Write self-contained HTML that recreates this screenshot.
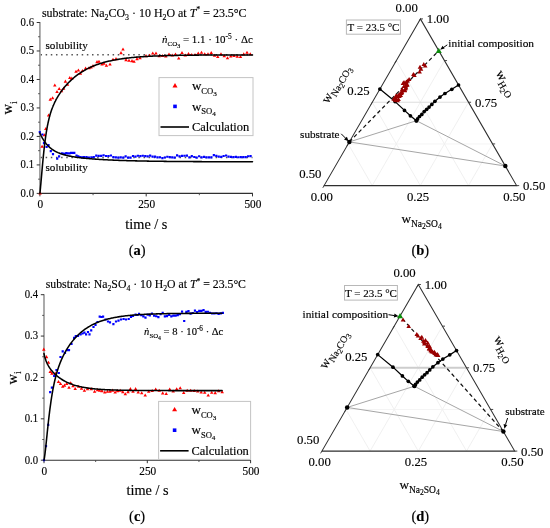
<!DOCTYPE html>
<html><head><meta charset="utf-8"><title>Figure</title>
<style>html,body{margin:0;padding:0;background:#fff;} svg{display:block;} text{stroke:#000;stroke-width:0.15px;paint-order:stroke;}</style></head>
<body><svg width="550" height="528" viewBox="0 0 550 528" font-family="'Liberation Serif','Times New Roman',serif">
<rect width="550" height="528" fill="#fff"/>
<line x1="40.5" y1="54.83" x2="252.5" y2="54.83" stroke="#555" stroke-width="1.5" stroke-dasharray="1.5 3.65"/>
<text x="45.5" y="49.3" font-size="11.2" text-anchor="start" >solubility</text>
<line x1="40.5" y1="157.4" x2="252.5" y2="157.4" stroke="#555" stroke-width="1.5" stroke-dasharray="1.5 3.65"/>
<text x="45.5" y="171.1" font-size="11.2" text-anchor="start" >solubility</text>
<line x1="39.9" y1="22.1" x2="39.9" y2="193.9" stroke="#9c9c9c" stroke-width="1.7" />
<line x1="39.4" y1="193.4" x2="252.9" y2="193.4" stroke="#303030" stroke-width="1.15" />
<line x1="36.7" y1="193.4" x2="39.9" y2="193.4" stroke="#333" stroke-width="1" />
<text transform="translate(34,196.7) scale(0.9,1)" font-size="11.9" text-anchor="end" >0.0</text>
<line x1="38.1" y1="179.16" x2="39.9" y2="179.16" stroke="#444" stroke-width="0.9" />
<line x1="36.7" y1="164.92" x2="39.9" y2="164.92" stroke="#333" stroke-width="1" />
<text transform="translate(34,168.22) scale(0.9,1)" font-size="11.9" text-anchor="end" >0.1</text>
<line x1="38.1" y1="150.68" x2="39.9" y2="150.68" stroke="#444" stroke-width="0.9" />
<line x1="36.7" y1="136.43" x2="39.9" y2="136.43" stroke="#333" stroke-width="1" />
<text transform="translate(34,139.73) scale(0.9,1)" font-size="11.9" text-anchor="end" >0.2</text>
<line x1="38.1" y1="122.19" x2="39.9" y2="122.19" stroke="#444" stroke-width="0.9" />
<line x1="36.7" y1="107.95" x2="39.9" y2="107.95" stroke="#333" stroke-width="1" />
<text transform="translate(34,111.25) scale(0.9,1)" font-size="11.9" text-anchor="end" >0.3</text>
<line x1="38.1" y1="93.71" x2="39.9" y2="93.71" stroke="#444" stroke-width="0.9" />
<line x1="36.7" y1="79.47" x2="39.9" y2="79.47" stroke="#333" stroke-width="1" />
<text transform="translate(34,82.77) scale(0.9,1)" font-size="11.9" text-anchor="end" >0.4</text>
<line x1="38.1" y1="65.22" x2="39.9" y2="65.22" stroke="#444" stroke-width="0.9" />
<line x1="36.7" y1="50.98" x2="39.9" y2="50.98" stroke="#333" stroke-width="1" />
<text transform="translate(34,54.28) scale(0.9,1)" font-size="11.9" text-anchor="end" >0.5</text>
<line x1="38.1" y1="36.74" x2="39.9" y2="36.74" stroke="#444" stroke-width="0.9" />
<line x1="36.7" y1="22.5" x2="39.9" y2="22.5" stroke="#333" stroke-width="1" />
<text transform="translate(34,25.8) scale(0.9,1)" font-size="11.9" text-anchor="end" >0.6</text>
<line x1="39.9" y1="193.4" x2="39.9" y2="196.4" stroke="#333" stroke-width="1" />
<text transform="translate(40.3,207.9) scale(0.95,1)" font-size="11.9" text-anchor="middle" >0</text>
<line x1="146.2" y1="193.4" x2="146.2" y2="196.4" stroke="#333" stroke-width="1" />
<text transform="translate(146.6,207.9) scale(0.95,1)" font-size="11.9" text-anchor="middle" >250</text>
<line x1="252.5" y1="193.4" x2="252.5" y2="196.4" stroke="#333" stroke-width="1" />
<text transform="translate(252.9,207.9) scale(0.95,1)" font-size="11.9" text-anchor="middle" >500</text>
<line x1="93.05" y1="193.4" x2="93.05" y2="195.2" stroke="#444" stroke-width="0.9" />
<line x1="199.35" y1="193.4" x2="199.35" y2="195.2" stroke="#444" stroke-width="0.9" />
<path d="M40.1,191.51L41.85,194.56L38.35,194.56ZM42.1,144.71L43.85,147.76L40.35,147.76ZM44.3,133.31L46.05,136.36L42.55,136.36ZM45.8,126.91L47.55,129.96L44.05,129.96ZM48.6,113.51L50.35,116.56L46.85,116.56ZM50.3,97.61L52.05,100.66L48.55,100.66ZM52.6,96.21L54.35,99.26L50.85,99.26ZM54.8,83.51L56.55,86.56L53.05,86.56ZM57,89.91L58.75,92.96L55.25,92.96ZM59.2,87.01L60.95,90.06L57.45,90.06ZM61.5,89.21L63.25,92.26L59.75,92.26ZM63.6,86.61L65.35,89.66L61.85,89.66ZM65.4,79.61L67.15,82.66L63.65,82.66ZM67.5,82.61L69.25,85.66L65.75,85.66ZM69.8,76.01L71.55,79.06L68.05,79.06ZM71.8,76.61L73.55,79.66L70.05,79.66ZM76,69.81L77.75,72.86L74.25,72.86ZM78.4,68.41L80.15,71.46L76.65,71.46ZM80.4,71.61L82.15,74.66L78.65,74.66ZM82.4,69.01L84.15,72.06L80.65,72.06ZM85.6,66.51L87.35,69.56L83.85,69.56ZM89,66.31L90.75,69.36L87.25,69.36ZM91,65.41L92.75,68.46L89.25,68.46ZM93,64.11L94.75,67.16L91.25,67.16ZM97,60.11L98.75,63.16L95.25,63.16ZM99,59.71L100.75,62.76L97.25,62.76ZM102,62.51L103.75,65.56L100.25,65.56ZM104,61.71L105.75,64.76L102.25,64.76ZM106.4,63.71L108.15,66.76L104.65,66.76ZM110,62.51L111.75,65.56L108.25,65.56ZM113,57.71L114.75,60.76L111.25,60.76ZM116,57.11L117.75,60.16L114.25,60.16ZM121,51.11L122.75,54.16L119.25,54.16ZM123,47.51L124.75,50.56L121.25,50.56ZM126,58.11L127.75,61.16L124.25,61.16ZM129,58.71L130.75,61.76L127.25,61.76ZM132,59.11L133.75,62.16L130.25,62.16ZM134,59.71L135.75,62.76L132.25,62.76ZM137,57.11L138.75,60.16L135.25,60.16ZM140,56.11L141.75,59.16L138.25,59.16ZM146,54.11L147.75,57.16L144.25,57.16ZM149.5,53.74L151.25,56.79L147.75,56.79ZM152.75,51.41L154.5,54.45L151,54.45ZM156,51.49L157.75,54.53L154.25,54.53ZM159.25,54.2L161,57.24L157.5,57.24ZM162.5,53.97L164.25,57.01L160.75,57.01ZM165.75,54.5L167.5,57.54L164,57.54ZM169,52.4L170.75,55.45L167.25,55.45ZM172.25,53.56L174,56.61L170.5,56.61ZM175.5,52.42L177.25,55.46L173.75,55.46ZM178.75,56.5L180.5,59.55L177,59.55ZM182,51.07L183.75,54.11L180.25,54.11ZM185.25,53.49L187,56.53L183.5,56.53ZM188.5,52L190.25,55.05L186.75,55.05ZM191.75,52.97L193.5,56.01L190,56.01ZM195,53.03L196.75,56.08L193.25,56.08ZM198.25,51.44L200,54.48L196.5,54.48ZM201.5,50.68L203.25,53.73L199.75,53.73ZM204.75,52.21L206.5,55.25L203,55.25ZM208,52.16L209.75,55.21L206.25,55.21ZM211.25,50.99L213,54.03L209.5,54.03ZM214.5,53.65L216.25,56.69L212.75,56.69ZM217.75,54.92L219.5,57.97L216,57.97ZM221,52.19L222.75,55.24L219.25,55.24ZM224.25,54.08L226,57.13L222.5,57.13ZM227.5,56.18L229.25,59.22L225.75,59.22ZM230.75,54.47L232.5,57.52L229,57.52ZM234,53.85L235.75,56.89L232.25,56.89ZM237.25,54.8L239,57.85L235.5,57.85ZM240.5,55.02L242.25,58.06L238.75,58.06ZM243.75,52.33L245.5,55.38L242,55.38ZM247,50.71L248.75,53.75L245.25,53.75ZM250.25,52.26L252,55.3L248.5,55.3Z" fill="#ff0000"/>
<path d="M38.7,131.1h2.2v2.2h-2.2ZM41.3,133.4h2.2v2.2h-2.2ZM42.9,142.1h2.2v2.2h-2.2ZM45.5,145.9h2.2v2.2h-2.2ZM47.4,144h2.2v2.2h-2.2ZM49.7,150h2.2v2.2h-2.2ZM51.9,153.1h2.2v2.2h-2.2ZM56.1,157.6h2.2v2.2h-2.2ZM58,155.3h2.2v2.2h-2.2ZM60.7,152.3h2.2v2.2h-2.2ZM62.3,152.5h2.2v2.2h-2.2ZM63.7,152.7h2.2v2.2h-2.2ZM65.2,152.11h2.2v2.2h-2.2ZM66.8,152.25h2.2v2.2h-2.2ZM68.4,152.19h2.2v2.2h-2.2ZM70,151.79h2.2v2.2h-2.2ZM71.6,151.86h2.2v2.2h-2.2ZM73.2,151.84h2.2v2.2h-2.2ZM75.4,154.4h2.2v2.2h-2.2ZM77.2,155.3h2.2v2.2h-2.2ZM78.9,155.9h2.2v2.2h-2.2ZM80.9,156.2h2.2v2.2h-2.2ZM82.9,155.99h2.2v2.2h-2.2ZM85.35,155.98h2.2v2.2h-2.2ZM87.8,156.6h2.2v2.2h-2.2ZM90.25,156.14h2.2v2.2h-2.2ZM92.7,156.09h2.2v2.2h-2.2ZM95.15,154.47h2.2v2.2h-2.2ZM97.6,154.8h2.2v2.2h-2.2ZM100.05,154.75h2.2v2.2h-2.2ZM102.5,154.14h2.2v2.2h-2.2ZM104.95,154.88h2.2v2.2h-2.2ZM107.4,154.92h2.2v2.2h-2.2ZM109.85,154.41h2.2v2.2h-2.2ZM112.3,156.09h2.2v2.2h-2.2ZM114.75,156.32h2.2v2.2h-2.2ZM117.2,156.46h2.2v2.2h-2.2ZM119.65,156.26h2.2v2.2h-2.2ZM122.1,156.43h2.2v2.2h-2.2ZM124.55,155.22h2.2v2.2h-2.2ZM127,156.47h2.2v2.2h-2.2ZM129.45,156.5h2.2v2.2h-2.2ZM131.9,154.89h2.2v2.2h-2.2ZM134.35,155.48h2.2v2.2h-2.2ZM136.8,154.67h2.2v2.2h-2.2ZM139.25,155.12h2.2v2.2h-2.2ZM141.7,154.64h2.2v2.2h-2.2ZM144.15,155.1h2.2v2.2h-2.2ZM146.6,155.34h2.2v2.2h-2.2ZM149.05,154.58h2.2v2.2h-2.2ZM151.5,155.45h2.2v2.2h-2.2ZM153.95,155.45h2.2v2.2h-2.2ZM156.4,156.32h2.2v2.2h-2.2ZM158.85,156.13h2.2v2.2h-2.2ZM161.3,156.98h2.2v2.2h-2.2ZM163.75,156.38h2.2v2.2h-2.2ZM166.2,155.63h2.2v2.2h-2.2ZM168.65,155.98h2.2v2.2h-2.2ZM171.1,156.36h2.2v2.2h-2.2ZM173.55,156.54h2.2v2.2h-2.2ZM176,154.31h2.2v2.2h-2.2ZM178.45,155.19h2.2v2.2h-2.2ZM180.9,154.76h2.2v2.2h-2.2ZM183.35,154.66h2.2v2.2h-2.2ZM185.8,154.62h2.2v2.2h-2.2ZM188.25,156.23h2.2v2.2h-2.2ZM190.7,154.95h2.2v2.2h-2.2ZM193.15,155.92h2.2v2.2h-2.2ZM195.6,156.44h2.2v2.2h-2.2ZM198.05,155.17h2.2v2.2h-2.2ZM200.5,156.22h2.2v2.2h-2.2ZM202.95,155.7h2.2v2.2h-2.2ZM205.4,156.18h2.2v2.2h-2.2ZM207.85,156.34h2.2v2.2h-2.2ZM210.3,156.25h2.2v2.2h-2.2ZM212.75,154.11h2.2v2.2h-2.2ZM215.2,154.85h2.2v2.2h-2.2ZM217.65,155.5h2.2v2.2h-2.2ZM220.1,155.74h2.2v2.2h-2.2ZM222.55,154.9h2.2v2.2h-2.2ZM225,154.39h2.2v2.2h-2.2ZM227.45,155.45h2.2v2.2h-2.2ZM229.9,155.84h2.2v2.2h-2.2ZM232.35,156.04h2.2v2.2h-2.2ZM234.8,155.71h2.2v2.2h-2.2ZM237.25,156.15h2.2v2.2h-2.2ZM239.7,156.08h2.2v2.2h-2.2ZM242.15,156.01h2.2v2.2h-2.2ZM244.6,156.01h2.2v2.2h-2.2ZM247.05,155.17h2.2v2.2h-2.2ZM249.5,155.07h2.2v2.2h-2.2Z" fill="#0000ff"/>
<polyline points="39.9,193.4 40.04,192.1 40.19,190.73 40.33,189.29 40.47,187.81 40.61,186.28 40.76,184.71 40.9,183.12 41.04,181.51 41.19,179.88 41.33,178.25 41.47,176.61 41.62,174.97 41.76,173.33 41.9,171.7 42.04,170.09 42.19,168.48 42.33,166.89 42.47,165.32 42.62,163.77 42.76,162.24 42.9,160.73 43.04,159.24 43.19,157.78 43.33,156.35 43.47,154.94 43.62,153.55 43.76,152.2 43.9,150.87 44.04,149.56 44.19,148.29 44.33,147.04 44.47,145.82 44.62,144.62 44.76,143.45 44.9,142.31 45.05,141.19 45.19,140.1 45.33,139.03 45.47,137.99 45.62,136.97 45.76,135.98 45.9,135.01 46.05,134.06 46.19,133.13 46.33,132.23 46.47,131.35 46.62,130.49 46.76,129.65 46.9,128.83 47.05,128.02 47.19,127.24 47.33,126.48 47.47,125.73 47.62,125 47.76,124.29 47.9,123.59 48.05,122.91 48.19,122.24 48.33,121.59 48.48,120.96 48.62,120.34 48.76,119.73 48.9,119.13 49.05,118.55 49.19,117.98 49.33,117.42 49.48,116.87 49.62,116.34 49.76,115.82 49.9,115.3 50.05,114.8 50.19,114.31 50.33,113.82 50.48,113.35 50.62,112.88 50.76,112.42 50.91,111.98 51.05,111.54 51.19,111.1 51.33,110.68 51.48,110.26 51.62,109.85 51.76,109.45 51.91,109.05 52.05,108.66 52.19,108.28 52.33,107.9 52.48,107.53 52.62,107.16 52.76,106.8 52.91,106.45 53.05,106.1 53.19,105.75 53.33,105.41 53.48,105.08 53.62,104.75 53.76,104.42 53.91,104.1 54.05,103.78 54.19,103.47 54.34,103.16 54.48,102.86 54.62,102.55 54.76,102.26 54.91,101.96 55.05,101.67 55.19,101.38 55.34,101.1 55.48,100.82 55.62,100.54 55.76,100.26 55.91,99.99 56.05,99.72 56.19,99.46 56.34,99.19 56.48,98.93 56.62,98.67 56.77,98.42 56.91,98.16 57.12,97.79 58.1,96.13 59.08,94.56 60.07,93.08 61.05,91.67 62.03,90.32 63.01,89.03 63.99,87.8 64.98,86.61 65.96,85.47 66.94,84.38 67.92,83.32 68.9,82.31 69.88,81.33 70.87,80.39 71.85,79.48 72.83,78.61 73.81,77.76 74.79,76.95 75.77,76.17 76.76,75.41 77.74,74.68 78.72,73.98 79.7,73.3 80.68,72.64 81.67,72.01 82.65,71.41 83.63,70.82 84.61,70.25 85.59,69.71 86.57,69.18 87.56,68.67 88.54,68.18 89.52,67.71 90.5,67.25 91.48,66.82 92.47,66.39 93.45,65.98 94.43,65.59 95.41,65.21 96.39,64.84 97.37,64.49 98.36,64.15 99.34,63.82 100.32,63.5 101.3,63.19 102.28,62.9 103.27,62.61 104.25,62.34 105.23,62.07 106.21,61.82 107.19,61.57 108.17,61.33 109.16,61.11 110.14,60.88 111.12,60.67 112.1,60.47 113.08,60.27 114.07,60.08 115.05,59.89 116.03,59.71 117.01,59.54 117.99,59.38 118.97,59.22 119.96,59.06 120.94,58.91 121.92,58.77 122.9,58.63 123.88,58.5 124.87,58.37 125.85,58.25 126.83,58.13 127.81,58.01 128.79,57.9 129.77,57.79 130.76,57.69 131.74,57.59 132.72,57.49 133.7,57.4 134.68,57.31 135.67,57.22 136.65,57.14 137.63,57.06 138.61,56.98 139.59,56.91 140.57,56.83 141.56,56.77 142.54,56.7 143.52,56.63 144.5,56.57 145.48,56.51 146.46,56.45 147.45,56.4 148.43,56.34 149.41,56.29 150.39,56.24 151.37,56.19 152.36,56.14 153.34,56.1 154.32,56.06 155.3,56.01 156.28,55.97 157.26,55.93 158.25,55.9 159.23,55.86 160.21,55.83 161.19,55.79 162.17,55.76 163.16,55.73 164.14,55.7 165.12,55.67 166.1,55.64 167.08,55.61 168.06,55.59 169.05,55.56 170.03,55.54 171.01,55.51 171.99,55.49 172.97,55.47 173.96,55.45 174.94,55.43 175.92,55.41 176.9,55.39 177.88,55.37 178.86,55.35 179.85,55.34 180.83,55.32 181.81,55.3 182.79,55.29 183.77,55.27 184.76,55.26 185.74,55.25 186.72,55.23 187.7,55.22 188.68,55.21 189.66,55.2 190.65,55.18 191.63,55.17 192.61,55.16 193.59,55.15 194.57,55.14 195.56,55.13 196.54,55.12 197.52,55.12 198.5,55.11 199.48,55.1 200.46,55.09 201.45,55.08 202.43,55.08 203.41,55.07 204.39,55.06 205.37,55.05 206.36,55.05 207.34,55.04 208.32,55.04 209.3,55.03 210.28,55.02 211.26,55.02 212.25,55.01 213.23,55.01 214.21,55 215.19,55 216.17,55 217.15,54.99 218.14,54.99 219.12,54.98 220.1,54.98 221.08,54.98 222.06,54.97 223.05,54.97 224.03,54.97 225.01,54.96 225.99,54.96 226.97,54.96 227.95,54.95 228.94,54.95 229.92,54.95 230.9,54.94 231.88,54.94 232.86,54.94 233.85,54.94 234.83,54.94 235.81,54.93 236.79,54.93 237.77,54.93 238.75,54.93 239.74,54.93 240.72,54.92 241.7,54.92 242.68,54.92 243.66,54.92 244.65,54.92 245.63,54.92 246.61,54.91 247.59,54.91 248.57,54.91 249.55,54.91 250.54,54.91 251.52,54.91 252.5,54.91" fill="none" stroke="#000" stroke-width="1.55" stroke-linejoin="round" stroke-linecap="round" />
<polyline points="39.9,133.06 40.04,133.38 40.19,133.7 40.33,134.02 40.47,134.33 40.61,134.63 40.76,134.94 40.9,135.23 41.04,135.52 41.19,135.81 41.33,136.1 41.47,136.38 41.62,136.65 41.76,136.93 41.9,137.2 42.04,137.46 42.19,137.72 42.33,137.98 42.47,138.23 42.62,138.48 42.76,138.73 42.9,138.97 43.04,139.21 43.19,139.45 43.33,139.68 43.47,139.91 43.62,140.14 43.76,140.36 43.9,140.58 44.04,140.8 44.19,141.01 44.33,141.22 44.47,141.43 44.62,141.64 44.76,141.84 44.9,142.04 45.05,142.24 45.19,142.43 45.33,142.62 45.47,142.81 45.62,143 45.76,143.18 45.9,143.36 46.05,143.54 46.19,143.72 46.33,143.89 46.47,144.06 46.62,144.23 46.76,144.4 46.9,144.57 47.05,144.73 47.19,144.89 47.33,145.05 47.47,145.2 47.62,145.36 47.76,145.51 47.9,145.66 48.05,145.81 48.19,145.95 48.33,146.1 48.48,146.24 48.62,146.38 48.76,146.52 48.9,146.66 49.05,146.79 49.19,146.92 49.33,147.06 49.48,147.19 49.62,147.31 49.76,147.44 49.9,147.56 50.05,147.69 50.19,147.81 50.33,147.93 50.48,148.05 50.62,148.16 50.76,148.28 50.91,148.39 51.05,148.51 51.19,148.62 51.33,148.73 51.48,148.84 51.62,148.94 51.76,149.05 51.91,149.15 52.05,149.26 52.19,149.36 52.33,149.46 52.48,149.56 52.62,149.66 52.76,149.75 52.91,149.85 53.05,149.94 53.19,150.04 53.33,150.13 53.48,150.22 53.62,150.31 53.76,150.4 53.91,150.49 54.05,150.57 54.19,150.66 54.34,150.74 54.48,150.83 54.62,150.91 54.76,150.99 54.91,151.07 55.05,151.15 55.19,151.23 55.34,151.31 55.48,151.39 55.62,151.46 55.76,151.54 55.91,151.61 56.05,151.69 56.19,151.76 56.34,151.83 56.48,151.9 56.62,151.97 56.77,152.04 56.91,152.11 57.12,152.21 58.1,152.65 59.08,153.06 60.07,153.45 61.05,153.8 62.03,154.13 63.01,154.44 63.99,154.73 64.98,155 65.96,155.25 66.94,155.49 67.92,155.72 68.9,155.93 69.88,156.13 70.87,156.32 71.85,156.5 72.83,156.67 73.81,156.83 74.79,156.99 75.77,157.13 76.76,157.28 77.74,157.41 78.72,157.54 79.7,157.66 80.68,157.78 81.67,157.9 82.65,158.01 83.63,158.11 84.61,158.22 85.59,158.31 86.57,158.41 87.56,158.5 88.54,158.59 89.52,158.68 90.5,158.76 91.48,158.84 92.47,158.92 93.45,158.99 94.43,159.07 95.41,159.14 96.39,159.21 97.37,159.27 98.36,159.34 99.34,159.4 100.32,159.46 101.3,159.52 102.28,159.58 103.27,159.64 104.25,159.69 105.23,159.75 106.21,159.8 107.19,159.85 108.17,159.9 109.16,159.95 110.14,159.99 111.12,160.04 112.1,160.08 113.08,160.13 114.07,160.17 115.05,160.21 116.03,160.25 117.01,160.29 117.99,160.33 118.97,160.37 119.96,160.4 120.94,160.44 121.92,160.47 122.9,160.5 123.88,160.54 124.87,160.57 125.85,160.6 126.83,160.63 127.81,160.66 128.79,160.69 129.77,160.72 130.76,160.74 131.74,160.77 132.72,160.8 133.7,160.82 134.68,160.85 135.67,160.87 136.65,160.89 137.63,160.92 138.61,160.94 139.59,160.96 140.57,160.98 141.56,161 142.54,161.02 143.52,161.04 144.5,161.06 145.48,161.08 146.46,161.1 147.45,161.12 148.43,161.14 149.41,161.15 150.39,161.17 151.37,161.18 152.36,161.2 153.34,161.22 154.32,161.23 155.3,161.25 156.28,161.26 157.26,161.27 158.25,161.29 159.23,161.3 160.21,161.31 161.19,161.33 162.17,161.34 163.16,161.35 164.14,161.36 165.12,161.37 166.1,161.38 167.08,161.4 168.06,161.41 169.05,161.42 170.03,161.43 171.01,161.44 171.99,161.45 172.97,161.45 173.96,161.46 174.94,161.47 175.92,161.48 176.9,161.49 177.88,161.5 178.86,161.51 179.85,161.51 180.83,161.52 181.81,161.53 182.79,161.54 183.77,161.54 184.76,161.55 185.74,161.56 186.72,161.56 187.7,161.57 188.68,161.58 189.66,161.58 190.65,161.59 191.63,161.59 192.61,161.6 193.59,161.61 194.57,161.61 195.56,161.62 196.54,161.62 197.52,161.63 198.5,161.63 199.48,161.64 200.46,161.64 201.45,161.64 202.43,161.65 203.41,161.65 204.39,161.66 205.37,161.66 206.36,161.67 207.34,161.67 208.32,161.67 209.3,161.68 210.28,161.68 211.26,161.68 212.25,161.69 213.23,161.69 214.21,161.69 215.19,161.7 216.17,161.7 217.15,161.7 218.14,161.71 219.12,161.71 220.1,161.71 221.08,161.71 222.06,161.72 223.05,161.72 224.03,161.72 225.01,161.72 225.99,161.73 226.97,161.73 227.95,161.73 228.94,161.73 229.92,161.74 230.9,161.74 231.88,161.74 232.86,161.74 233.85,161.74 234.83,161.75 235.81,161.75 236.79,161.75 237.77,161.75 238.75,161.75 239.74,161.76 240.72,161.76 241.7,161.76 242.68,161.76 243.66,161.76 244.65,161.76 245.63,161.76 246.61,161.77 247.59,161.77 248.57,161.77 249.55,161.77 250.54,161.77 251.52,161.77 252.5,161.77" fill="none" stroke="#000" stroke-width="1.55" stroke-linejoin="round" stroke-linecap="round" />
<text x="41.9" y="17.1" font-size="11.95" text-anchor="start" fill="#000" ><tspan>substrate: Na</tspan><tspan dy="3" font-size="7.89">2</tspan><tspan dy="-3">CO</tspan><tspan dy="3" font-size="7.89">3</tspan><tspan dy="-3"> · 10 H</tspan><tspan dy="3" font-size="7.89">2</tspan><tspan dy="-3">O at </tspan><tspan font-style="italic">T</tspan><tspan dy="-4.8" font-size="7.89">*</tspan><tspan dy="4.8"> = 23.5°C</tspan></text>
<text x="162" y="43.3" font-size="10.95" text-anchor="start" fill="#000" ><tspan font-style="italic">ṅ</tspan><tspan dy="2.9" font-size="7.01">CO</tspan><tspan dy="1.7" font-size="6.02">3</tspan><tspan dy="-4.6"> = 1.1 · 10</tspan><tspan dy="-4.2" font-size="7.45">-5</tspan><tspan dy="4.2"> · Δc</tspan></text>
<rect x="159" y="77.6" width="94" height="58" fill="#fff" stroke="#c4c4c4" stroke-width="1"/>
<path d="M175,83.1L177.5,87.45L172.5,87.45Z" fill="#ff0000"/>
<path d="M173.2,104.6h3.6v3.6h-3.6Z" fill="#0000ff"/>
<line x1="160.5" y1="127" x2="189" y2="127" stroke="#000" stroke-width="1.6" />
<text x="191.9" y="90.3" font-size="13" text-anchor="start" fill="#000" ><tspan>w</tspan><tspan dy="3.9" font-size="8.58">CO</tspan><tspan dy="1.5" font-size="7.15">3</tspan></text>
<text x="191.9" y="110.5" font-size="13" text-anchor="start" fill="#000" ><tspan>w</tspan><tspan dy="3.9" font-size="8.58">SO</tspan><tspan dy="1.5" font-size="7.15">4</tspan></text>
<text x="191.9" y="130.8" font-size="12.45" text-anchor="start" >Calculation</text>
<g transform="translate(12.4,107.9) rotate(-90)"><text x="0" y="0" font-size="14.6" text-anchor="middle" fill="#000" ><tspan>w</tspan><tspan dy="4.2" font-size="9.64">i</tspan></text></g>
<text x="146.4" y="228.6" font-size="14.3" text-anchor="middle" >time / s</text>
<text x="137.1" y="255" font-size="14.5" text-anchor="middle">(<tspan font-weight="bold">a</tspan>)</text>
<line x1="44" y1="294.3" x2="44" y2="460.7" stroke="#9c9c9c" stroke-width="1.7" />
<line x1="43.5" y1="460.2" x2="251" y2="460.2" stroke="#303030" stroke-width="1.15" />
<line x1="40.8" y1="460.2" x2="44" y2="460.2" stroke="#333" stroke-width="1" />
<text transform="translate(38.1,463.5) scale(0.9,1)" font-size="11.9" text-anchor="end" >0.0</text>
<line x1="42.2" y1="439.51" x2="44" y2="439.51" stroke="#444" stroke-width="0.9" />
<line x1="40.8" y1="418.82" x2="44" y2="418.82" stroke="#333" stroke-width="1" />
<text transform="translate(38.1,422.12) scale(0.9,1)" font-size="11.9" text-anchor="end" >0.1</text>
<line x1="42.2" y1="398.14" x2="44" y2="398.14" stroke="#444" stroke-width="0.9" />
<line x1="40.8" y1="377.45" x2="44" y2="377.45" stroke="#333" stroke-width="1" />
<text transform="translate(38.1,380.75) scale(0.9,1)" font-size="11.9" text-anchor="end" >0.2</text>
<line x1="42.2" y1="356.76" x2="44" y2="356.76" stroke="#444" stroke-width="0.9" />
<line x1="40.8" y1="336.07" x2="44" y2="336.07" stroke="#333" stroke-width="1" />
<text transform="translate(38.1,339.38) scale(0.9,1)" font-size="11.9" text-anchor="end" >0.3</text>
<line x1="42.2" y1="315.39" x2="44" y2="315.39" stroke="#444" stroke-width="0.9" />
<line x1="40.8" y1="294.7" x2="44" y2="294.7" stroke="#333" stroke-width="1" />
<text transform="translate(38.1,298) scale(0.9,1)" font-size="11.9" text-anchor="end" >0.4</text>
<line x1="44" y1="460.2" x2="44" y2="463.2" stroke="#333" stroke-width="1" />
<text transform="translate(44.4,474.7) scale(0.95,1)" font-size="11.9" text-anchor="middle" >0</text>
<line x1="147.3" y1="460.2" x2="147.3" y2="463.2" stroke="#333" stroke-width="1" />
<text transform="translate(147.7,474.7) scale(0.95,1)" font-size="11.9" text-anchor="middle" >250</text>
<line x1="250.6" y1="460.2" x2="250.6" y2="463.2" stroke="#333" stroke-width="1" />
<text transform="translate(251,474.7) scale(0.95,1)" font-size="11.9" text-anchor="middle" >500</text>
<line x1="95.65" y1="460.2" x2="95.65" y2="462" stroke="#444" stroke-width="0.9" />
<line x1="198.95" y1="460.2" x2="198.95" y2="462" stroke="#444" stroke-width="0.9" />
<path d="M43.8,347.61L45.55,350.66L42.05,350.66ZM46.5,355.11L48.25,358.16L44.75,358.16ZM48.5,360.81L50.25,363.86L46.75,363.86ZM50.2,370.01L51.95,373.06L48.45,373.06ZM51.9,371.61L53.65,374.66L50.15,374.66ZM55.4,371.71L57.15,374.76L53.65,374.76ZM58.5,379.91L60.25,382.96L56.75,382.96ZM60.5,381.91L62.25,384.96L58.75,384.96ZM62.7,384.71L64.45,387.76L60.95,387.76ZM64.5,383.61L66.25,386.66L62.75,386.66ZM66.7,381.91L68.45,384.96L64.95,384.96ZM69,385.81L70.75,388.86L67.25,388.86ZM70.7,381.31L72.45,384.36L68.95,384.36ZM73,384.11L74.75,387.16L71.25,387.16ZM75.2,387.01L76.95,390.06L73.45,390.06ZM78.6,384.71L80.35,387.76L76.85,387.76ZM81.5,386.61L83.25,389.66L79.75,389.66ZM84.4,388.81L86.15,391.86L82.65,391.86ZM87.5,387.11L89.25,390.16L85.75,390.16ZM91.2,387.11L92.95,390.16L89.45,390.16ZM94.6,389.81L96.35,392.86L92.85,392.86ZM97.5,388.11L99.25,391.16L95.75,391.16ZM99.7,388.81L101.45,391.86L97.95,391.86ZM102,389.11L103.75,392.16L100.25,392.16ZM104.8,390.51L106.55,393.56L103.05,393.56ZM107.5,389.61L109.25,392.66L105.75,392.66ZM110,389.81L111.75,392.86L108.25,392.86ZM112.5,388.61L114.25,391.66L110.75,391.66ZM115.1,390.51L116.85,393.56L113.35,393.56ZM117.5,389.11L119.25,392.16L115.75,392.16ZM120.2,388.81L121.95,391.86L118.45,391.86ZM122.8,390.11L124.55,393.16L121.05,393.16ZM125.3,392.21L127.05,395.26L123.55,395.26ZM128,390.11L129.75,393.16L126.25,393.16ZM130.4,387.11L132.15,390.16L128.65,390.16ZM133,389.61L134.75,392.66L131.25,392.66ZM135.6,387.11L137.35,390.16L133.85,390.16ZM138.2,390.4L139.95,393.44L136.45,393.44ZM141.7,391.16L143.45,394.2L139.95,394.2ZM145.2,393.43L146.95,396.48L143.45,396.48ZM148.7,389.73L150.45,392.78L146.95,392.78ZM152.2,388.93L153.95,391.97L150.45,391.97ZM155.7,387.47L157.45,390.52L153.95,390.52ZM159.2,388.7L160.95,391.75L157.45,391.75ZM162.7,391.35L164.45,394.4L160.95,394.4ZM166.2,391.98L167.95,395.02L164.45,395.02ZM169.7,387.48L171.45,390.53L167.95,390.53ZM173.2,389.58L174.95,392.62L171.45,392.62ZM176.7,387.33L178.45,390.37L174.95,390.37ZM180.2,386.29L181.95,389.33L178.45,389.33ZM183.7,390.96L185.45,394L181.95,394ZM187.2,388.68L188.95,391.72L185.45,391.72ZM190.7,388.7L192.45,391.75L188.95,391.75ZM194.2,388.95L195.95,392L192.45,392ZM197.7,389.51L199.45,392.56L195.95,392.56ZM201.2,390.52L202.95,393.57L199.45,393.57ZM204.7,390.7L206.45,393.75L202.95,393.75ZM208.2,393.41L209.95,396.46L206.45,396.46ZM211.7,390.63L213.45,393.68L209.95,393.68ZM215.2,391.12L216.95,394.16L213.45,394.16ZM218.7,389.22L220.45,392.27L216.95,392.27ZM222.2,390.18L223.95,393.23L220.45,393.23Z" fill="#ff0000"/>
<path d="M42.9,459.1h2.2v2.2h-2.2ZM44.9,445h2.2v2.2h-2.2ZM47.1,423.7h2.2v2.2h-2.2ZM49.1,391h2.2v2.2h-2.2ZM50.8,386.6h2.2v2.2h-2.2ZM53.1,374.7h2.2v2.2h-2.2ZM55.4,369h2.2v2.2h-2.2ZM57.7,371.9h2.2v2.2h-2.2ZM59.4,355.9h2.2v2.2h-2.2ZM61.6,350.3h2.2v2.2h-2.2ZM63.9,351.9h2.2v2.2h-2.2ZM66.2,349.1h2.2v2.2h-2.2ZM67.9,349.1h2.2v2.2h-2.2ZM70.4,342.9h2.2v2.2h-2.2ZM73,336.7h2.2v2.2h-2.2ZM74.7,335h2.2v2.2h-2.2ZM76.9,334.9h2.2v2.2h-2.2ZM79.4,333.4h2.2v2.2h-2.2ZM81.4,332.4h2.2v2.2h-2.2ZM83.3,331.6h2.2v2.2h-2.2ZM85,333.3h2.2v2.2h-2.2ZM86.9,330.9h2.2v2.2h-2.2ZM88.4,333.3h2.2v2.2h-2.2ZM90.1,329.2h2.2v2.2h-2.2ZM92.4,325.9h2.2v2.2h-2.2ZM94.4,323.9h2.2v2.2h-2.2ZM96.4,320.9h2.2v2.2h-2.2ZM98.6,315.5h2.2v2.2h-2.2ZM100.4,315.9h2.2v2.2h-2.2ZM102,315.5h2.2v2.2h-2.2ZM104.4,318.4h2.2v2.2h-2.2ZM106.9,320.4h2.2v2.2h-2.2ZM108.9,321.3h2.2v2.2h-2.2ZM112.3,323h2.2v2.2h-2.2ZM114.9,320.4h2.2v2.2h-2.2ZM117.4,319.6h2.2v2.2h-2.2ZM119.9,318.4h2.2v2.2h-2.2ZM122.5,317.9h2.2v2.2h-2.2ZM124.9,318.4h2.2v2.2h-2.2ZM127.6,317.9h2.2v2.2h-2.2ZM129.9,315.9h2.2v2.2h-2.2ZM131.9,314.9h2.2v2.2h-2.2ZM134.5,313.5h2.2v2.2h-2.2ZM136.4,313.9h2.2v2.2h-2.2ZM137.9,312.8h2.2v2.2h-2.2ZM140.1,314.05h2.2v2.2h-2.2ZM142.25,315.37h2.2v2.2h-2.2ZM144.4,316.55h2.2v2.2h-2.2ZM146.55,313.58h2.2v2.2h-2.2ZM148.7,314.33h2.2v2.2h-2.2ZM150.85,312.61h2.2v2.2h-2.2ZM153,314.65h2.2v2.2h-2.2ZM155.15,315.13h2.2v2.2h-2.2ZM157.3,316.08h2.2v2.2h-2.2ZM159.45,313.16h2.2v2.2h-2.2ZM161.6,311.82h2.2v2.2h-2.2ZM163.75,315.28h2.2v2.2h-2.2ZM165.9,315.06h2.2v2.2h-2.2ZM168.05,313.74h2.2v2.2h-2.2ZM170.2,315.18h2.2v2.2h-2.2ZM172.35,314.57h2.2v2.2h-2.2ZM174.5,314.62h2.2v2.2h-2.2ZM176.65,314.03h2.2v2.2h-2.2ZM178.8,313.08h2.2v2.2h-2.2ZM180.95,310.44h2.2v2.2h-2.2ZM183.1,319.9h2.2v2.2h-2.2ZM185.25,310.86h2.2v2.2h-2.2ZM187.4,310.07h2.2v2.2h-2.2ZM189.55,312.61h2.2v2.2h-2.2ZM191.7,311.88h2.2v2.2h-2.2ZM193.85,309.54h2.2v2.2h-2.2ZM196,310.97h2.2v2.2h-2.2ZM198.15,309.75h2.2v2.2h-2.2ZM200.3,309.78h2.2v2.2h-2.2ZM202.45,308.96h2.2v2.2h-2.2ZM204.6,310.85h2.2v2.2h-2.2ZM206.75,310.63h2.2v2.2h-2.2ZM208.9,311.79h2.2v2.2h-2.2ZM211.05,312.39h2.2v2.2h-2.2ZM213.2,312.42h2.2v2.2h-2.2ZM215.35,312.16h2.2v2.2h-2.2ZM217.5,312.82h2.2v2.2h-2.2ZM219.65,312.22h2.2v2.2h-2.2ZM221.8,311.74h2.2v2.2h-2.2Z" fill="#0000ff"/>
<polyline points="44,353.63 44.14,354.25 44.28,354.85 44.42,355.42 44.56,355.97 44.69,356.5 44.83,357.02 44.97,357.51 45.11,357.98 45.25,358.44 45.39,358.89 45.53,359.31 45.67,359.73 45.81,360.13 45.94,360.52 46.08,360.89 46.22,361.26 46.36,361.61 46.5,361.96 46.64,362.29 46.78,362.61 46.92,362.93 47.06,363.24 47.19,363.54 47.33,363.83 47.47,364.11 47.61,364.39 47.75,364.67 47.89,364.93 48.03,365.19 48.17,365.45 48.31,365.69 48.44,365.94 48.58,366.18 48.72,366.41 48.86,366.64 49,366.87 49.14,367.09 49.28,367.31 49.42,367.52 49.56,367.73 49.69,367.94 49.83,368.14 49.97,368.34 50.11,368.54 50.25,368.73 50.39,368.93 50.53,369.12 50.67,369.3 50.81,369.49 50.94,369.67 51.08,369.85 51.22,370.02 51.36,370.2 51.5,370.37 51.64,370.54 51.78,370.71 51.92,370.87 52.06,371.04 52.19,371.2 52.33,371.36 52.47,371.52 52.61,371.67 52.75,371.83 52.89,371.98 53.03,372.13 53.17,372.28 53.31,372.43 53.44,372.58 53.58,372.73 53.72,372.87 53.86,373.01 54,373.15 54.14,373.29 54.28,373.43 54.42,373.57 54.56,373.71 54.69,373.84 54.83,373.98 54.97,374.11 55.11,374.24 55.25,374.37 55.39,374.5 55.53,374.63 55.67,374.75 55.81,374.88 55.94,375 56.08,375.13 56.22,375.25 56.36,375.37 56.5,375.49 56.64,375.61 56.78,375.73 56.92,375.85 57.06,375.96 57.19,376.08 57.33,376.19 57.47,376.3 57.61,376.42 57.75,376.53 57.89,376.64 58.03,376.75 58.17,376.86 58.31,376.97 58.44,377.07 58.58,377.18 58.72,377.28 58.86,377.39 59,377.49 59.14,377.6 59.28,377.7 59.42,377.8 59.56,377.9 59.69,378 59.83,378.1 59.97,378.19 60.11,378.29 60.25,378.39 60.39,378.48 60.53,378.58 60.73,378.72 61.55,379.25 62.36,379.76 63.17,380.25 63.98,380.71 64.79,381.15 65.6,381.58 66.41,381.98 67.22,382.37 68.03,382.73 68.84,383.09 69.65,383.42 70.46,383.74 71.28,384.05 72.09,384.35 72.9,384.63 73.71,384.89 74.52,385.15 75.33,385.39 76.14,385.63 76.95,385.85 77.76,386.06 78.57,386.27 79.38,386.46 80.19,386.65 81.01,386.83 81.82,386.99 82.63,387.16 83.44,387.31 84.25,387.46 85.06,387.6 85.87,387.74 86.68,387.86 87.49,387.99 88.3,388.11 89.11,388.22 89.92,388.33 90.74,388.43 91.55,388.53 92.36,388.62 93.17,388.71 93.98,388.79 94.79,388.88 95.6,388.95 96.41,389.03 97.22,389.1 98.03,389.17 98.84,389.23 99.65,389.3 100.47,389.35 101.28,389.41 102.09,389.47 102.9,389.52 103.71,389.57 104.52,389.61 105.33,389.66 106.14,389.7 106.95,389.74 107.76,389.78 108.57,389.82 109.38,389.86 110.2,389.89 111.01,389.92 111.82,389.95 112.63,389.98 113.44,390.01 114.25,390.04 115.06,390.07 115.87,390.09 116.68,390.11 117.49,390.14 118.3,390.16 119.11,390.18 119.92,390.2 120.74,390.22 121.55,390.24 122.36,390.25 123.17,390.27 123.98,390.29 124.79,390.3 125.6,390.32 126.41,390.33 127.22,390.34 128.03,390.36 128.84,390.37 129.65,390.38 130.47,390.39 131.28,390.4 132.09,390.41 132.9,390.42 133.71,390.43 134.52,390.44 135.33,390.45 136.14,390.45 136.95,390.46 137.76,390.47 138.57,390.48 139.38,390.48 140.2,390.49 141.01,390.49 141.82,390.5 142.63,390.51 143.44,390.51 144.25,390.52 145.06,390.52 145.87,390.53 146.68,390.53 147.49,390.53 148.3,390.54 149.11,390.54 149.93,390.55 150.74,390.55 151.55,390.55 152.36,390.56 153.17,390.56 153.98,390.56 154.79,390.56 155.6,390.57 156.41,390.57 157.22,390.57 158.03,390.57 158.84,390.58 159.66,390.58 160.47,390.58 161.28,390.58 162.09,390.58 162.9,390.59 163.71,390.59 164.52,390.59 165.33,390.59 166.14,390.59 166.95,390.59 167.76,390.6 168.57,390.6 169.39,390.6 170.2,390.6 171.01,390.6 171.82,390.6 172.63,390.6 173.44,390.6 174.25,390.6 175.06,390.6 175.87,390.61 176.68,390.61 177.49,390.61 178.3,390.61 179.12,390.61 179.93,390.61 180.74,390.61 181.55,390.61 182.36,390.61 183.17,390.61 183.98,390.61 184.79,390.61 185.6,390.61 186.41,390.61 187.22,390.61 188.03,390.61 188.85,390.62 189.66,390.62 190.47,390.62 191.28,390.62 192.09,390.62 192.9,390.62 193.71,390.62 194.52,390.62 195.33,390.62 196.14,390.62 196.95,390.62 197.76,390.62 198.58,390.62 199.39,390.62 200.2,390.62 201.01,390.62 201.82,390.62 202.63,390.62 203.44,390.62 204.25,390.62 205.06,390.62 205.87,390.62 206.68,390.62 207.49,390.62 208.31,390.62 209.12,390.62 209.93,390.62 210.74,390.62 211.55,390.62 212.36,390.62 213.17,390.62 213.98,390.62 214.79,390.62 215.6,390.62 216.41,390.62 217.22,390.62 218.04,390.62 218.85,390.62 219.66,390.62 220.47,390.62 221.28,390.62 222.09,390.62" fill="none" stroke="#000" stroke-width="1.55" stroke-linejoin="round" stroke-linecap="round" />
<polyline points="44,460.2 44.14,459.51 44.28,458.73 44.42,457.87 44.56,456.95 44.69,455.96 44.83,454.92 44.97,453.82 45.11,452.69 45.25,451.51 45.39,450.3 45.53,449.06 45.67,447.79 45.81,446.51 45.94,445.2 46.08,443.88 46.22,442.55 46.36,441.21 46.5,439.86 46.64,438.51 46.78,437.16 46.92,435.81 47.06,434.47 47.19,433.12 47.33,431.79 47.47,430.46 47.61,429.13 47.75,427.82 47.89,426.52 48.03,425.23 48.17,423.95 48.31,422.68 48.44,421.43 48.58,420.19 48.72,418.97 48.86,417.76 49,416.57 49.14,415.39 49.28,414.23 49.42,413.09 49.56,411.96 49.69,410.85 49.83,409.75 49.97,408.67 50.11,407.61 50.25,406.57 50.39,405.54 50.53,404.53 50.67,403.53 50.81,402.55 50.94,401.59 51.08,400.64 51.22,399.71 51.36,398.79 51.5,397.89 51.64,397 51.78,396.13 51.92,395.28 52.06,394.44 52.19,393.61 52.33,392.8 52.47,392 52.61,391.21 52.75,390.44 52.89,389.68 53.03,388.93 53.17,388.2 53.31,387.48 53.44,386.77 53.58,386.08 53.72,385.39 53.86,384.72 54,384.05 54.14,383.4 54.28,382.76 54.42,382.13 54.56,381.51 54.69,380.9 54.83,380.3 54.97,379.71 55.11,379.13 55.25,378.56 55.39,377.99 55.53,377.44 55.67,376.89 55.81,376.36 55.94,375.83 56.08,375.3 56.22,374.79 56.36,374.28 56.5,373.79 56.64,373.29 56.78,372.81 56.92,372.33 57.06,371.86 57.19,371.4 57.33,370.94 57.47,370.49 57.61,370.04 57.75,369.6 57.89,369.17 58.03,368.74 58.17,368.32 58.31,367.9 58.44,367.49 58.58,367.08 58.72,366.68 58.86,366.29 59,365.89 59.14,365.51 59.28,365.13 59.42,364.75 59.56,364.38 59.69,364.01 59.83,363.64 59.97,363.28 60.11,362.92 60.25,362.57 60.39,362.22 60.53,361.88 60.73,361.37 61.55,359.46 62.36,357.66 63.17,355.96 63.98,354.34 64.79,352.8 65.6,351.33 66.41,349.93 67.22,348.59 68.03,347.31 68.84,346.08 69.65,344.9 70.46,343.76 71.28,342.67 72.09,341.62 72.9,340.61 73.71,339.63 74.52,338.7 75.33,337.79 76.14,336.92 76.95,336.08 77.76,335.27 78.57,334.49 79.38,333.74 80.19,333.01 81.01,332.31 81.82,331.64 82.63,330.99 83.44,330.36 84.25,329.75 85.06,329.17 85.87,328.61 86.68,328.06 87.49,327.54 88.3,327.03 89.11,326.54 89.92,326.07 90.74,325.62 91.55,325.18 92.36,324.76 93.17,324.35 93.98,323.96 94.79,323.58 95.6,323.21 96.41,322.86 97.22,322.52 98.03,322.19 98.84,321.87 99.65,321.57 100.47,321.27 101.28,320.99 102.09,320.71 102.9,320.45 103.71,320.19 104.52,319.94 105.33,319.71 106.14,319.48 106.95,319.26 107.76,319.04 108.57,318.84 109.38,318.64 110.2,318.45 111.01,318.26 111.82,318.08 112.63,317.91 113.44,317.74 114.25,317.58 115.06,317.43 115.87,317.28 116.68,317.14 117.49,317 118.3,316.86 119.11,316.74 119.92,316.61 120.74,316.49 121.55,316.38 122.36,316.26 123.17,316.16 123.98,316.05 124.79,315.95 125.6,315.85 126.41,315.76 127.22,315.67 128.03,315.58 128.84,315.5 129.65,315.42 130.47,315.34 131.28,315.27 132.09,315.19 132.9,315.12 133.71,315.05 134.52,314.99 135.33,314.93 136.14,314.87 136.95,314.81 137.76,314.75 138.57,314.7 139.38,314.64 140.2,314.59 141.01,314.54 141.82,314.5 142.63,314.45 143.44,314.41 144.25,314.37 145.06,314.32 145.87,314.28 146.68,314.25 147.49,314.21 148.3,314.17 149.11,314.14 149.93,314.11 150.74,314.08 151.55,314.05 152.36,314.02 153.17,313.99 153.98,313.96 154.79,313.93 155.6,313.91 156.41,313.88 157.22,313.86 158.03,313.84 158.84,313.81 159.66,313.79 160.47,313.77 161.28,313.75 162.09,313.73 162.9,313.71 163.71,313.7 164.52,313.68 165.33,313.66 166.14,313.65 166.95,313.63 167.76,313.62 168.57,313.6 169.39,313.59 170.2,313.57 171.01,313.56 171.82,313.55 172.63,313.54 173.44,313.52 174.25,313.51 175.06,313.5 175.87,313.49 176.68,313.48 177.49,313.47 178.3,313.46 179.12,313.45 179.93,313.45 180.74,313.44 181.55,313.43 182.36,313.42 183.17,313.41 183.98,313.41 184.79,313.4 185.6,313.39 186.41,313.39 187.22,313.38 188.03,313.37 188.85,313.37 189.66,313.36 190.47,313.36 191.28,313.35 192.09,313.35 192.9,313.34 193.71,313.34 194.52,313.33 195.33,313.33 196.14,313.32 196.95,313.32 197.76,313.32 198.58,313.31 199.39,313.31 200.2,313.3 201.01,313.3 201.82,313.3 202.63,313.29 203.44,313.29 204.25,313.29 205.06,313.29 205.87,313.28 206.68,313.28 207.49,313.28 208.31,313.27 209.12,313.27 209.93,313.27 210.74,313.27 211.55,313.27 212.36,313.26 213.17,313.26 213.98,313.26 214.79,313.26 215.6,313.26 216.41,313.25 217.22,313.25 218.04,313.25 218.85,313.25 219.66,313.25 220.47,313.25 221.28,313.25 222.09,313.24" fill="none" stroke="#000" stroke-width="1.55" stroke-linejoin="round" stroke-linecap="round" />
<text x="45.8" y="288.4" font-size="11.75" text-anchor="start" fill="#000" ><tspan>substrate: Na</tspan><tspan dy="3" font-size="7.76">2</tspan><tspan dy="-3">SO</tspan><tspan dy="3" font-size="7.76">4</tspan><tspan dy="-3"> · 10 H</tspan><tspan dy="3" font-size="7.76">2</tspan><tspan dy="-3">O at </tspan><tspan font-style="italic">T</tspan><tspan dy="-4.8" font-size="7.76">*</tspan><tspan dy="4.8"> = 23.5°C</tspan></text>
<text x="144.1" y="335" font-size="10.6" text-anchor="start" fill="#000" ><tspan font-style="italic">ṅ</tspan><tspan dy="2.9" font-size="6.78">SO</tspan><tspan dy="1.7" font-size="5.83">4</tspan><tspan dy="-4.6"> = 8 · 10</tspan><tspan dy="-4.2" font-size="7.21">-6</tspan><tspan dy="4.2"> · Δc</tspan></text>
<rect x="158.6" y="401.4" width="92" height="58" fill="#fff" stroke="#c4c4c4" stroke-width="1"/>
<path d="M174.6,406.9L177.1,411.25L172.1,411.25Z" fill="#ff0000"/>
<path d="M172.8,428.4h3.6v3.6h-3.6Z" fill="#0000ff"/>
<line x1="160.1" y1="450.8" x2="188.6" y2="450.8" stroke="#000" stroke-width="1.6" />
<text x="191.5" y="414.1" font-size="13" text-anchor="start" fill="#000" ><tspan>w</tspan><tspan dy="3.9" font-size="8.58">CO</tspan><tspan dy="1.5" font-size="7.15">3</tspan></text>
<text x="191.5" y="434.3" font-size="13" text-anchor="start" fill="#000" ><tspan>w</tspan><tspan dy="3.9" font-size="8.58">SO</tspan><tspan dy="1.5" font-size="7.15">4</tspan></text>
<text x="191.5" y="454.6" font-size="12.45" text-anchor="start" >Calculation</text>
<g transform="translate(16.6,377.9) rotate(-90)"><text x="0" y="0" font-size="14.6" text-anchor="middle" fill="#000" ><tspan>w</tspan><tspan dy="4.2" font-size="9.64">i</tspan></text></g>
<text x="147.6" y="494.6" font-size="14.3" text-anchor="middle" >time / s</text>
<text x="137.1" y="521.2" font-size="14.5" text-anchor="middle">(<tspan font-weight="bold">c</tspan>)</text>
<line x1="396.32" y1="60.57" x2="468.48" y2="185.6" stroke="#ececec" stroke-width="0.8" />
<line x1="444.45" y1="60.57" x2="372.23" y2="185.6" stroke="#ececec" stroke-width="0.8" />
<line x1="372.25" y1="102.25" x2="420.35" y2="185.6" stroke="#ececec" stroke-width="0.8" />
<line x1="468.5" y1="102.25" x2="420.35" y2="185.6" stroke="#ececec" stroke-width="0.8" />
<line x1="348.18" y1="143.92" x2="372.23" y2="185.6" stroke="#ececec" stroke-width="0.8" />
<line x1="492.55" y1="143.92" x2="468.48" y2="185.6" stroke="#ececec" stroke-width="0.8" />
<line x1="348.18" y1="143.92" x2="492.55" y2="143.92" stroke="#f1f1f1" stroke-width="0.8" />
<line x1="372.25" y1="102.25" x2="468.5" y2="102.25" stroke="#d9d9d9" stroke-width="0.9" />
<line x1="349.34" y1="141.92" x2="416.4" y2="120.7" stroke="#a6a6a6" stroke-width="1" />
<line x1="349.34" y1="141.92" x2="505.31" y2="166.03" stroke="#a6a6a6" stroke-width="1" />
<line x1="416.4" y1="120.7" x2="505.31" y2="166.03" stroke="#a6a6a6" stroke-width="1" />
<path d="M420.4,18.9L324.1,185.6L516.6,185.6Z" fill="none" stroke="#2e2e2e" stroke-width="1.05" stroke-linejoin="miter"/>
<line x1="420.4" y1="18.9" x2="419.1" y2="21.15" stroke="#333" stroke-width="0.9" />
<line x1="420.4" y1="18.9" x2="423" y2="18.9" stroke="#333" stroke-width="0.9" />
<line x1="324.1" y1="185.6" x2="322.8" y2="185.6" stroke="#333" stroke-width="0" />
<line x1="396.32" y1="60.57" x2="395.02" y2="62.83" stroke="#333" stroke-width="0.9" />
<line x1="444.45" y1="60.57" x2="447.05" y2="60.57" stroke="#333" stroke-width="0.9" />
<line x1="372.23" y1="185.6" x2="370.93" y2="185.6" stroke="#333" stroke-width="0" />
<line x1="372.25" y1="102.25" x2="370.95" y2="104.5" stroke="#333" stroke-width="0.9" />
<line x1="468.5" y1="102.25" x2="471.1" y2="102.25" stroke="#333" stroke-width="0.9" />
<line x1="420.35" y1="185.6" x2="419.05" y2="185.6" stroke="#333" stroke-width="0" />
<line x1="348.18" y1="143.92" x2="346.88" y2="146.18" stroke="#333" stroke-width="0.9" />
<line x1="492.55" y1="143.92" x2="495.15" y2="143.92" stroke="#333" stroke-width="0.9" />
<line x1="468.48" y1="185.6" x2="467.18" y2="185.6" stroke="#333" stroke-width="0" />
<line x1="324.1" y1="185.6" x2="322.8" y2="187.85" stroke="#333" stroke-width="0.9" />
<line x1="516.6" y1="185.6" x2="519.2" y2="185.6" stroke="#333" stroke-width="0.9" />
<line x1="516.6" y1="185.6" x2="515.3" y2="185.6" stroke="#333" stroke-width="0" />
<line x1="349.34" y1="141.92" x2="438.75" y2="50.71" stroke="#111" stroke-width="1.25" stroke-dasharray="3.8 2.9"/>
<polyline points="379.87,89.07 395.1,101.6 404.5,110.4 410.4,115.8 416.4,120.7 417.6,118.9 419.5,116.5 421.8,114.4 424.2,111.6 426.7,109.3 429.1,107.1 431.8,104.4 434.9,101.3 440,97.1 444.9,93.5 451.8,89.3 458.54,85" fill="none" stroke="#000" stroke-width="1.25" stroke-linejoin="round" stroke-linecap="round" />
<g fill="#000"><circle cx="379.87" cy="89.07" r="1.85"/><circle cx="395.1" cy="101.6" r="1.85"/><circle cx="404.5" cy="110.4" r="1.85"/><circle cx="410.4" cy="115.8" r="1.85"/><circle cx="416.4" cy="120.7" r="1.85"/><circle cx="417.6" cy="118.9" r="1.85"/><circle cx="419.5" cy="116.5" r="1.85"/><circle cx="421.8" cy="114.4" r="1.85"/><circle cx="424.2" cy="111.6" r="1.85"/><circle cx="426.7" cy="109.3" r="1.85"/><circle cx="429.1" cy="107.1" r="1.85"/><circle cx="431.8" cy="104.4" r="1.85"/><circle cx="434.9" cy="101.3" r="1.85"/><circle cx="440" cy="97.1" r="1.85"/><circle cx="444.9" cy="93.5" r="1.85"/><circle cx="451.8" cy="89.3" r="1.85"/><circle cx="458.54" cy="85" r="1.85"/></g>
<path d="M423.8,62.02L426.1,66.02L421.5,66.02ZM425.2,63.42L427.5,67.42L422.9,67.42ZM420,64.82L422.3,68.82L417.7,68.82ZM421,66.72L423.3,70.72L418.7,70.72ZM419.6,69.52L421.9,73.52L417.3,73.52ZM413.4,71.92L415.7,75.92L411.1,75.92ZM414.4,72.92L416.7,76.92L412.1,76.92ZM409.1,77.12L411.4,81.12L406.8,81.12ZM407.7,78.52L410,82.52L405.4,82.52ZM406.3,79.52L408.6,83.52L404,83.52ZM404,80.02L406.3,84.02L401.7,84.02ZM403,80.92L405.3,84.92L400.7,84.92ZM393.68,96.79L395.98,100.79L391.38,100.79ZM395.57,98.08L397.87,102.08L393.27,102.08ZM395.43,97.63L397.73,101.63L393.13,101.63ZM395.03,96.33L397.33,100.33L392.73,100.33ZM397.61,98.16L399.91,102.17L395.31,102.17ZM395.47,94.96L397.77,98.97L393.17,98.97ZM398.54,97.06L400.84,101.06L396.24,101.06ZM395.96,93.45L398.26,97.45L393.66,97.45ZM396.73,93.69L399.03,97.7L394.43,97.7ZM397.98,93.61L400.28,97.62L395.68,97.62ZM399.41,94.05L401.71,98.05L397.11,98.05ZM398.95,92.33L401.25,96.34L396.65,96.34ZM400.73,93.12L403.03,97.12L398.43,97.12ZM399.96,91.86L402.26,95.87L397.66,95.87ZM400.89,90.99L403.19,94.99L398.59,94.99ZM401.52,90.66L403.82,94.66L399.22,94.66ZM401.63,89.9L403.93,93.9L399.33,93.9ZM401.92,89.4L404.22,93.4L399.62,93.4ZM401.88,87.58L404.18,91.58L399.58,91.58ZM402.31,87.58L404.61,91.58L400.01,91.58ZM404.81,88.34L407.11,92.35L402.51,92.35ZM404.83,87.46L407.13,91.46L402.53,91.46ZM405.51,86.24L407.81,90.24L403.21,90.24ZM403.96,84.02L406.26,88.02L401.66,88.02ZM405.94,85.19L408.24,89.19L403.64,89.19ZM405.68,83.67L407.98,87.67L403.38,87.67ZM406.54,82.88L408.84,86.88L404.24,86.88ZM407.42,82.4L409.72,86.4L405.12,86.4Z" fill="#990000"/>
<circle cx="349.34" cy="141.92" r="2.25" fill="#000"/>
<circle cx="505.31" cy="166.03" r="2.25" fill="#000"/>
<circle cx="416.4" cy="120.7" r="2.0" fill="#000"/>
<path d="M438.75,47.77L441.75,52.99L435.75,52.99Z" fill="#0b8c0b"/>
<text transform="translate(417.8,11.6) scale(0.98,1)" font-size="13" text-anchor="end" >0.00</text>
<text transform="translate(426.8,23.3) scale(0.98,1)" font-size="13" text-anchor="start" >1.00</text>
<text transform="translate(321.8,200.6) scale(0.98,1)" font-size="13" text-anchor="middle" >0.00</text>
<text transform="translate(369.65,94.95) scale(0.98,1)" font-size="13" text-anchor="end" >0.25</text>
<text transform="translate(474.9,106.65) scale(0.98,1)" font-size="13" text-anchor="start" >0.75</text>
<text transform="translate(418.05,200.6) scale(0.98,1)" font-size="13" text-anchor="middle" >0.25</text>
<text transform="translate(321.5,178.3) scale(0.98,1)" font-size="13" text-anchor="end" >0.50</text>
<text transform="translate(523,190) scale(0.98,1)" font-size="13" text-anchor="start" >0.50</text>
<text transform="translate(514.3,200.6) scale(0.98,1)" font-size="13" text-anchor="middle" >0.50</text>
<g transform="translate(338.75,85.75) rotate(-60)"><text x="0" y="0" font-size="13.5" text-anchor="middle" fill="#000" ><tspan>w</tspan><tspan dy="3.4" font-size="9.72">Na</tspan><tspan dy="2" font-size="7.83">2</tspan><tspan dy="-2" font-size="9.72">CO</tspan><tspan dy="2" font-size="7.83">3</tspan></text></g>
<g transform="translate(502.5,85.25) rotate(60)"><text x="0" y="0" font-size="13.5" text-anchor="middle" fill="#000" ><tspan>w</tspan><tspan dy="3.4" font-size="9.72">H</tspan><tspan dy="2" font-size="7.83">2</tspan><tspan dy="-2" font-size="9.72">O</tspan></text></g>
<text x="421.6" y="222.6" font-size="13.2" text-anchor="middle" fill="#000" ><tspan>w</tspan><tspan dy="4.3" font-size="9.5">Na</tspan><tspan dy="2" font-size="7.66">2</tspan><tspan dy="-2" font-size="9.5">SO</tspan><tspan dy="2" font-size="7.66">4</tspan></text>
<rect x="346.4" y="20" width="54" height="14.2" fill="#fff" stroke="#b8b8b8" stroke-width="1"/>
<text x="373.4" y="30.7" font-size="11" text-anchor="middle" >T = 23.5 °C</text>
<text x="300.1" y="137.6" font-size="11.1" text-anchor="start" >substrate</text><path d="M341.2,133.8 L346.2,138.8" stroke="#000" stroke-width="1"/><path d="M348.6,141.3 L344,139.6 L346.9,136.7Z" fill="#000"/>
<text x="448.3" y="47.1" font-size="11.4" text-anchor="start" >initial composition</text><path d="M447.3,44.8 L442.6,48.2" stroke="#000" stroke-width="1"/><path d="M440.2,49.8 L442.6,45.8 L444.6,48.6Z" fill="#000"/>
<text x="420.3" y="255" font-size="14.5" text-anchor="middle">(<tspan font-weight="bold">b</tspan>)</text>
<line x1="394.2" y1="326.15" x2="466.5" y2="451.1" stroke="#ececec" stroke-width="0.8" />
<line x1="442.4" y1="326.15" x2="370.1" y2="451.1" stroke="#ececec" stroke-width="0.8" />
<line x1="370.1" y1="367.8" x2="418.3" y2="451.1" stroke="#ececec" stroke-width="0.8" />
<line x1="466.5" y1="367.8" x2="418.3" y2="451.1" stroke="#ececec" stroke-width="0.8" />
<line x1="346" y1="409.45" x2="370.1" y2="451.1" stroke="#ececec" stroke-width="0.8" />
<line x1="490.6" y1="409.45" x2="466.5" y2="451.1" stroke="#ececec" stroke-width="0.8" />
<line x1="346" y1="409.45" x2="490.6" y2="409.45" stroke="#f1f1f1" stroke-width="0.8" />
<line x1="370.1" y1="367.8" x2="466.5" y2="367.8" stroke="#cdcdcd" stroke-width="1.9" />
<line x1="347.16" y1="407.44" x2="414.32" y2="386.24" stroke="#a6a6a6" stroke-width="1" />
<line x1="347.16" y1="407.44" x2="503.38" y2="431.54" stroke="#a6a6a6" stroke-width="1" />
<line x1="414.32" y1="386.24" x2="503.38" y2="431.54" stroke="#a6a6a6" stroke-width="1" />
<path d="M418.3,284.5L321.9,451.1L514.7,451.1Z" fill="none" stroke="#2e2e2e" stroke-width="1.05" stroke-linejoin="miter"/>
<line x1="418.3" y1="284.5" x2="417" y2="286.75" stroke="#333" stroke-width="0.9" />
<line x1="418.3" y1="284.5" x2="420.9" y2="284.5" stroke="#333" stroke-width="0.9" />
<line x1="321.9" y1="451.1" x2="320.6" y2="451.1" stroke="#333" stroke-width="0" />
<line x1="394.2" y1="326.15" x2="392.9" y2="328.4" stroke="#333" stroke-width="0.9" />
<line x1="442.4" y1="326.15" x2="445" y2="326.15" stroke="#333" stroke-width="0.9" />
<line x1="370.1" y1="451.1" x2="368.8" y2="451.1" stroke="#333" stroke-width="0" />
<line x1="370.1" y1="367.8" x2="368.8" y2="370.05" stroke="#333" stroke-width="0.9" />
<line x1="466.5" y1="367.8" x2="469.1" y2="367.8" stroke="#333" stroke-width="0.9" />
<line x1="418.3" y1="451.1" x2="417" y2="451.1" stroke="#333" stroke-width="0" />
<line x1="346" y1="409.45" x2="344.7" y2="411.7" stroke="#333" stroke-width="0.9" />
<line x1="490.6" y1="409.45" x2="493.2" y2="409.45" stroke="#333" stroke-width="0.9" />
<line x1="466.5" y1="451.1" x2="465.2" y2="451.1" stroke="#333" stroke-width="0" />
<line x1="321.9" y1="451.1" x2="320.6" y2="453.35" stroke="#333" stroke-width="0.9" />
<line x1="514.7" y1="451.1" x2="517.3" y2="451.1" stroke="#333" stroke-width="0.9" />
<line x1="514.7" y1="451.1" x2="513.4" y2="451.1" stroke="#333" stroke-width="0" />
<line x1="503.38" y1="431.54" x2="400.05" y2="316.04" stroke="#111" stroke-width="1.25" stroke-dasharray="3.8 2.9"/>
<polyline points="377.72,354.62 392.99,367.15 402.4,375.95 408.31,381.34 414.32,386.24 415.53,384.44 417.43,382.04 419.73,379.94 422.13,377.14 424.64,374.85 427.04,372.65 429.74,369.95 432.85,366.85 437.95,362.65 442.86,359.06 449.77,354.86 456.52,350.56" fill="none" stroke="#000" stroke-width="1.25" stroke-linejoin="round" stroke-linecap="round" />
<g fill="#000"><circle cx="377.72" cy="354.62" r="1.85"/><circle cx="392.99" cy="367.15" r="1.85"/><circle cx="402.4" cy="375.95" r="1.85"/><circle cx="408.31" cy="381.34" r="1.85"/><circle cx="414.32" cy="386.24" r="1.85"/><circle cx="415.53" cy="384.44" r="1.85"/><circle cx="417.43" cy="382.04" r="1.85"/><circle cx="419.73" cy="379.94" r="1.85"/><circle cx="422.13" cy="377.14" r="1.85"/><circle cx="424.64" cy="374.85" r="1.85"/><circle cx="427.04" cy="372.65" r="1.85"/><circle cx="429.74" cy="369.95" r="1.85"/><circle cx="432.85" cy="366.85" r="1.85"/><circle cx="437.95" cy="362.65" r="1.85"/><circle cx="442.86" cy="359.06" r="1.85"/><circle cx="449.77" cy="354.86" r="1.85"/><circle cx="456.52" cy="350.56" r="1.85"/></g>
<path d="M403,317.42L405.3,321.42L400.7,321.42ZM408.7,324.12L411,328.12L406.4,328.12ZM416.8,332.12L419.1,336.12L414.5,336.12ZM418,333.52L420.3,337.52L415.7,337.52ZM420.6,335.92L422.9,339.92L418.3,339.92ZM421.8,334.72L424.1,338.72L419.5,338.72ZM423.4,338.82L425.7,342.82L421.1,342.82ZM425.5,338.02L427.8,342.02L423.2,342.02ZM438.17,353.12L440.47,357.12L435.87,357.12ZM437.81,352.6L440.11,356.6L435.51,356.6ZM437.56,351.99L439.86,355.99L435.26,355.99ZM436.5,352.45L438.8,356.46L434.2,356.46ZM435.75,352.23L438.05,356.23L433.45,356.23ZM435.22,351L437.52,355L432.92,355ZM434.21,350.53L436.51,354.53L431.91,354.53ZM434.37,349.63L436.67,353.63L432.07,353.63ZM432.75,349.84L435.05,353.85L430.45,353.85ZM431.53,349.31L433.83,353.31L429.23,353.31ZM430.57,348.25L432.87,352.25L428.27,352.25ZM430.78,346.86L433.08,350.86L428.48,350.86ZM429.43,346.77L431.73,350.77L427.13,350.77ZM428.97,346.15L431.27,350.15L426.67,350.15ZM429.6,343.88L431.9,347.89L427.3,347.89ZM428.11,343.94L430.41,347.95L425.81,347.95ZM427.46,343.46L429.76,347.46L425.16,347.46ZM427.68,340.57L429.98,344.57L425.38,344.57ZM424.32,341.54L426.62,345.54L422.02,345.54ZM424.33,339.7L426.63,343.7L422.03,343.7Z" fill="#990000"/>
<circle cx="347.16" cy="407.44" r="2.25" fill="#000"/>
<circle cx="503.38" cy="431.54" r="2.25" fill="#000"/>
<circle cx="414.32" cy="386.24" r="2.0" fill="#000"/>
<path d="M400.05,313.1L403.05,318.32L397.05,318.32Z" fill="#0b8c0b"/>
<text transform="translate(415.7,277.2) scale(0.98,1)" font-size="13" text-anchor="end" >0.00</text>
<text transform="translate(424.7,288.9) scale(0.98,1)" font-size="13" text-anchor="start" >1.00</text>
<text transform="translate(319.6,466.1) scale(0.98,1)" font-size="13" text-anchor="middle" >0.00</text>
<text transform="translate(367.5,360.5) scale(0.98,1)" font-size="13" text-anchor="end" >0.25</text>
<text transform="translate(472.9,372.2) scale(0.98,1)" font-size="13" text-anchor="start" >0.75</text>
<text transform="translate(416,466.1) scale(0.98,1)" font-size="13" text-anchor="middle" >0.25</text>
<text transform="translate(319.3,443.8) scale(0.98,1)" font-size="13" text-anchor="end" >0.50</text>
<text transform="translate(521.1,455.5) scale(0.98,1)" font-size="13" text-anchor="start" >0.50</text>
<text transform="translate(512.4,466.1) scale(0.98,1)" font-size="13" text-anchor="middle" >0.50</text>
<g transform="translate(336.6,351.3) rotate(-60)"><text x="0" y="0" font-size="13.5" text-anchor="middle" fill="#000" ><tspan>w</tspan><tspan dy="3.4" font-size="9.72">Na</tspan><tspan dy="2" font-size="7.83">2</tspan><tspan dy="-2" font-size="9.72">CO</tspan><tspan dy="2" font-size="7.83">3</tspan></text></g>
<g transform="translate(500.5,350.8) rotate(60)"><text x="0" y="0" font-size="13.5" text-anchor="middle" fill="#000" ><tspan>w</tspan><tspan dy="3.4" font-size="9.72">H</tspan><tspan dy="2" font-size="7.83">2</tspan><tspan dy="-2" font-size="9.72">O</tspan></text></g>
<text x="419.6" y="488.7" font-size="13.2" text-anchor="middle" fill="#000" ><tspan>w</tspan><tspan dy="4.3" font-size="9.5">Na</tspan><tspan dy="2" font-size="7.66">2</tspan><tspan dy="-2" font-size="9.5">SO</tspan><tspan dy="2" font-size="7.66">4</tspan></text>
<rect x="344.5" y="285.5" width="52.9" height="14.6" fill="#fff" stroke="#b8b8b8" stroke-width="1"/>
<text x="370.95" y="296.6" font-size="11" text-anchor="middle" >T = 23.5 °C</text>
<text x="505.3" y="415" font-size="11.1" text-anchor="start" >substrate</text><path d="M507.6,418 L505.5,424.5" stroke="#000" stroke-width="1"/><path d="M504.4,428.8 L503.6,423.9 L507.3,424.9Z" fill="#000"/>
<text x="302.5" y="317.6" font-size="11.4" text-anchor="start" >initial composition</text><path d="M388.5,314.7 L394.5,315.6" stroke="#000" stroke-width="1"/><path d="M398.5,316.3 L393.8,317.6 L394.5,313.6Z" fill="#000"/>
<text x="420.3" y="520.5" font-size="14.5" text-anchor="middle">(<tspan font-weight="bold">d</tspan>)</text>
</svg></body></html>
